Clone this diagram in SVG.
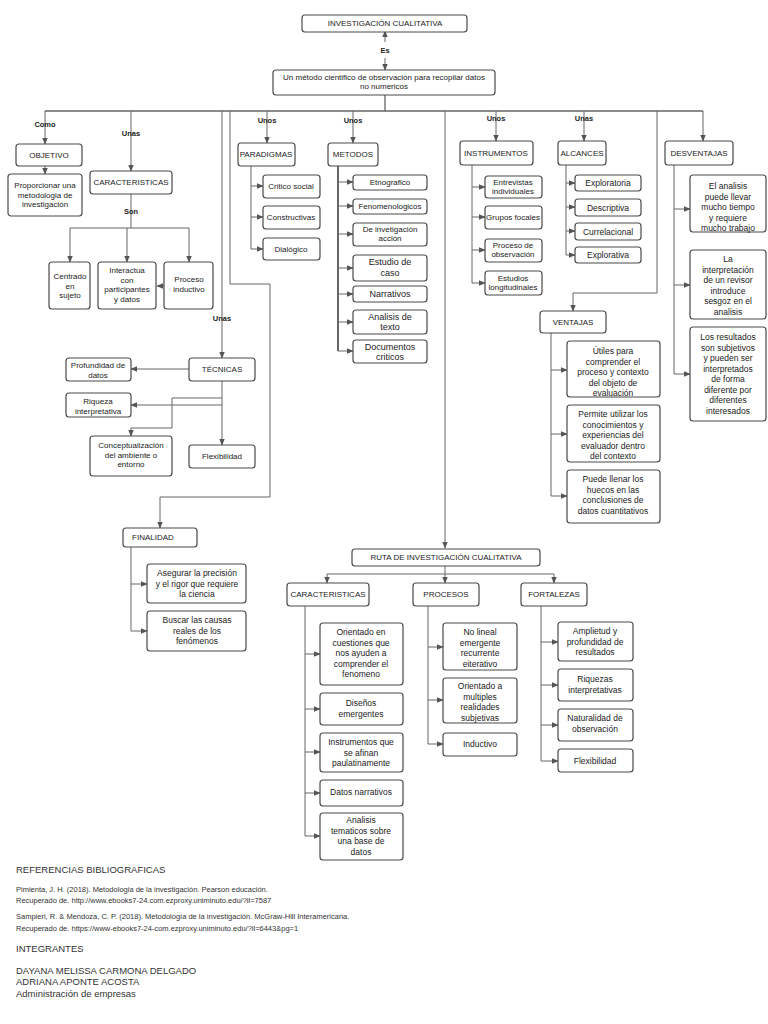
<svg xmlns="http://www.w3.org/2000/svg" width="768" height="1024" viewBox="0 0 768 1024">
<style>
.b{fill:#fff;stroke:#4a4a4a;stroke-width:1.2}
.t{font-family:"Liberation Sans",Arial,sans-serif;font-size:8px;fill:#222;text-anchor:middle}
.l{font-family:"Liberation Sans",Arial,sans-serif;font-size:7.5px;font-weight:bold;fill:#222;text-anchor:middle}
.c{fill:none;stroke:#666;stroke-width:1}
.r{font-family:"Liberation Sans",Arial,sans-serif;fill:#333}
</style>
<defs><marker id="a" viewBox="0 0 10 10" refX="9" refY="5" markerWidth="7" markerHeight="7" orient="auto-start-reverse" markerUnits="userSpaceOnUse"><path d="M0,1L10,5L0,9z" fill="#555"/></marker></defs>
<rect width="768" height="1024" fill="#fff"/>
<g id="connectors">
<path class="c" d="M385,42V31" marker-end="url(#a)"/><path class="c" d="M385,58V70" marker-end="url(#a)"/>
<path class="c" d="M385,95V111M45,111H703" style="stroke-width:1.3"/>
<path class="c" d="M45,111V144" marker-end="url(#a)"/>
<path class="c" d="M45,166V174" marker-end="url(#a)"/>
<path class="c" d="M131,111V171" marker-end="url(#a)"/>
<path class="c" d="M131,194V228M70,228H189"/>
<path class="c" d="M70,228V262" marker-end="url(#a)"/><path class="c" d="M127,228V262" marker-end="url(#a)"/><path class="c" d="M189,228V262" marker-end="url(#a)"/>
<path class="c" d="M164,286H157" marker-end="url(#a)"/>
<path class="c" d="M222,111V358" marker-end="url(#a)"/>
<path class="c" d="M230,111V284H270V497H160V528" marker-end="url(#a)"/>
<path class="c" d="M267,111V143" marker-end="url(#a)"/>
<path class="c" d="M353,111V143" marker-end="url(#a)"/>
<path class="c" d="M445,111V548" marker-end="url(#a)"/>
<path class="c" d="M496,111V141" marker-end="url(#a)"/>
<path class="c" d="M584,111V141" marker-end="url(#a)"/>
<path class="c" d="M657,111V293H573V311" marker-end="url(#a)"/>
<path class="c" d="M703,111V141" marker-end="url(#a)"/>
<path class="c" d="M251,166V249"/>
<path class="c" d="M251,186H263" marker-end="url(#a)"/><path class="c" d="M251,217H263" marker-end="url(#a)"/><path class="c" d="M251,249H263" marker-end="url(#a)"/>
<path class="c" d="M338,166V351" style="stroke-width:2"/>
<path class="c" d="M338,182H353" marker-end="url(#a)"/><path class="c" d="M338,206H353" marker-end="url(#a)"/><path class="c" d="M338,234H353" marker-end="url(#a)"/><path class="c" d="M338,268H353" marker-end="url(#a)"/><path class="c" d="M338,294H353" marker-end="url(#a)"/><path class="c" d="M338,322H353" marker-end="url(#a)"/><path class="c" d="M338,351H353" marker-end="url(#a)"/>
<path class="c" d="M472,165V283"/>
<path class="c" d="M472,187H485" marker-end="url(#a)"/><path class="c" d="M472,217H485" marker-end="url(#a)"/><path class="c" d="M472,250H485" marker-end="url(#a)"/><path class="c" d="M472,283H485" marker-end="url(#a)"/>
<path class="c" d="M566,165V255"/>
<path class="c" d="M566,183H575" marker-end="url(#a)"/><path class="c" d="M566,207H575" marker-end="url(#a)"/><path class="c" d="M566,231H575" marker-end="url(#a)"/><path class="c" d="M566,255H575" marker-end="url(#a)"/>
<path class="c" d="M674,165V374"/>
<path class="c" d="M674,209H690" marker-end="url(#a)"/><path class="c" d="M674,285H690" marker-end="url(#a)"/><path class="c" d="M674,374H690" marker-end="url(#a)"/>
<path class="c" d="M551,333V496"/>
<path class="c" d="M551,370H567" marker-end="url(#a)"/><path class="c" d="M551,434H567" marker-end="url(#a)"/><path class="c" d="M551,496H567" marker-end="url(#a)"/>
<path class="c" d="M189,369H131" marker-end="url(#a)"/>
<path class="c" d="M222,381V445" marker-end="url(#a)"/>
<path class="c" d="M222,405H131" marker-end="url(#a)"/>
<path class="c" d="M222,398H172V428H131V436" marker-end="url(#a)"/>
<path class="c" d="M131,547V631"/>
<path class="c" d="M131,584H147" marker-end="url(#a)"/><path class="c" d="M131,631H147" marker-end="url(#a)"/>
<path class="c" d="M445,566V574M327,574H554"/>
<path class="c" d="M327,574V583" marker-end="url(#a)"/><path class="c" d="M445,574V583" marker-end="url(#a)"/><path class="c" d="M554,574V583" marker-end="url(#a)"/>
<path class="c" d="M305,606V836"/>
<path class="c" d="M305,654H320" marker-end="url(#a)"/><path class="c" d="M305,709H320" marker-end="url(#a)"/><path class="c" d="M305,752H320" marker-end="url(#a)"/><path class="c" d="M305,793H320" marker-end="url(#a)"/><path class="c" d="M305,836H320" marker-end="url(#a)"/>
<path class="c" d="M428,606V744"/>
<path class="c" d="M428,647H443" marker-end="url(#a)"/><path class="c" d="M428,700H443" marker-end="url(#a)"/><path class="c" d="M428,744H443" marker-end="url(#a)"/>
<path class="c" d="M541,606V761"/>
<path class="c" d="M541,642H558" marker-end="url(#a)"/><path class="c" d="M541,685H558" marker-end="url(#a)"/><path class="c" d="M541,725H558" marker-end="url(#a)"/><path class="c" d="M541,761H558" marker-end="url(#a)"/>
</g>
<g id="labels">
<text class="l" x="385" y="53">Es</text>
<text class="l" x="45" y="127">Como</text>
<text class="l" x="131" y="136">Unas</text>
<text class="l" x="131" y="214">Son</text>
<text class="l" x="222" y="321">Unas</text>
<text class="l" x="267" y="123">Unos</text>
<text class="l" x="353" y="123">Unos</text>
<text class="l" x="496" y="121">Unos</text>
<text class="l" x="584" y="121">Unas</text>
</g>
<g id="n-root"><rect class="b" x="302" y="15" width="165" height="17" rx="3"/><text class="t" x="385" y="26">INVESTIGACIÓN CUALITATIVA</text></g>
<g id="n-metodo"><rect class="b" x="273" y="70" width="222" height="25" rx="3"/><text class="t" x="384" y="80">Un método cientifico de observación para recopilar datos<tspan x="384" dy="9">no numericos</tspan></text></g>
<g id="n-objetivo"><rect class="b" x="16" y="144" width="66" height="22" rx="3"/><text class="t" x="49" y="158">OBJETIVO</text></g>
<g id="n-proporcionar"><rect class="b" x="8" y="174" width="74" height="42" rx="3"/><text class="t" x="45" y="188">Proporcionar una<tspan x="45" dy="9.5">metodologia de</tspan><tspan x="45" dy="9.5">investigación</tspan></text></g>
<g id="n-caract"><rect class="b" x="90" y="171" width="82" height="23" rx="3"/><text class="t" x="131" y="185">CARACTERISTICAS</text></g>
<g id="n-centrado"><rect class="b" x="49" y="262" width="41" height="47" rx="3"/><text class="t" x="70" y="279">Centrado<tspan x="70" dy="9.5">en</tspan><tspan x="70" dy="9.5">sujeto</tspan></text></g>
<g id="n-interactua"><rect class="b" x="98" y="262" width="58" height="47" rx="3"/><text class="t" x="127" y="273">Interactua<tspan x="127" dy="9.5">con</tspan><tspan x="127" dy="9.5">participantes</tspan><tspan x="127" dy="9.5">y datos</tspan></text></g>
<g id="n-proceso"><rect class="b" x="164" y="262" width="49" height="47" rx="3"/><text class="t" x="189" y="282">Proceso<tspan x="189" dy="9.5">inductivo</tspan></text></g>
<g id="n-paradigmas"><rect class="b" x="238" y="143" width="57" height="23" rx="3"/><text class="t" x="266" y="157">PARADIGMAS</text></g>
<g id="n-critico"><rect class="b" x="263" y="175" width="57" height="23" rx="3"/><text class="t" x="291" y="189">Critico social</text></g>
<g id="n-constr"><rect class="b" x="263" y="206" width="57" height="23" rx="3"/><text class="t" x="291" y="220">Constructivas</text></g>
<g id="n-dialog"><rect class="b" x="263" y="238" width="57" height="22" rx="3"/><text class="t" x="291" y="252">Dialógico</text></g>
<g id="n-metodos"><rect class="b" x="328" y="143" width="50" height="23" rx="3"/><text class="t" x="353" y="157">METODOS</text></g>
<g id="n-etno"><rect class="b" x="353" y="175" width="74" height="15" rx="3"/><text class="t" x="390" y="185">Etnografico</text></g>
<g id="n-fenom"><rect class="b" x="353" y="199" width="74" height="15" rx="3"/><text class="t" x="390" y="209">Fenomenologicos</text></g>
<g id="n-invacc"><rect class="b" x="353" y="223" width="74" height="23" rx="3"/><text class="t" x="390" y="232">De invetigación<tspan x="390" dy="9">acción</tspan></text></g>
<g id="n-caso"><rect class="b" x="353" y="255" width="74" height="26" rx="3"/><text class="t" x="390" y="265" style="font-size:9px">Estudio de<tspan x="390" dy="11">caso</tspan></text></g>
<g id="n-narr"><rect class="b" x="353" y="286" width="74" height="16" rx="3"/><text class="t" x="390" y="297" style="font-size:9px">Narrativos</text></g>
<g id="n-analtxt"><rect class="b" x="353" y="310" width="74" height="24" rx="3"/><text class="t" x="390" y="320" style="font-size:9px">Analisis de<tspan x="390" dy="10">texto</tspan></text></g>
<g id="n-docs"><rect class="b" x="353" y="340" width="74" height="23" rx="3"/><text class="t" x="390" y="350" style="font-size:9px">Documentos<tspan x="390" dy="10">criticos</tspan></text></g>
<g id="n-instr"><rect class="b" x="460" y="141" width="73" height="24" rx="3"/><text class="t" x="496" y="156">INSTRUMENTOS</text></g>
<g id="n-entrev"><rect class="b" x="485" y="176" width="57" height="22" rx="3"/><text class="t" x="513" y="185">Entrevistas<tspan x="513" dy="9">individuales</tspan></text></g>
<g id="n-grupos"><rect class="b" x="485" y="206" width="57" height="23" rx="3"/><text class="t" x="513" y="220">Grupos focales</text></g>
<g id="n-procobs"><rect class="b" x="485" y="239" width="57" height="23" rx="3"/><text class="t" x="513" y="248">Proceso de<tspan x="513" dy="9">observación</tspan></text></g>
<g id="n-longit"><rect class="b" x="485" y="271" width="57" height="24" rx="3"/><text class="t" x="513" y="281">Estudios<tspan x="513" dy="9">longitudinales</tspan></text></g>
<g id="n-alcances"><rect class="b" x="558" y="141" width="48" height="24" rx="3"/><text class="t" x="582" y="156">ALCANCES</text></g>
<g id="n-explorat"><rect class="b" x="575" y="175" width="66" height="16" rx="3"/><text class="t" x="608" y="186" style="font-size:8.5px">Exploratoria</text></g>
<g id="n-descr"><rect class="b" x="575" y="199" width="66" height="17" rx="3"/><text class="t" x="608" y="211" style="font-size:8.5px">Descriptiva</text></g>
<g id="n-corr"><rect class="b" x="575" y="223" width="66" height="17" rx="3"/><text class="t" x="608" y="235" style="font-size:8.5px">Currelacional</text></g>
<g id="n-explorv"><rect class="b" x="575" y="247" width="66" height="16" rx="3"/><text class="t" x="608" y="258" style="font-size:8.5px">Explorativa</text></g>
<g id="n-desv"><rect class="b" x="665" y="141" width="68" height="24" rx="3"/><text class="t" x="699" y="156">DESVENTAJAS</text></g>
<g id="n-desv1"><rect class="b" x="690" y="175" width="76" height="57" rx="3"/><text class="t" x="728" y="189" style="font-size:8.5px">El analisis<tspan x="728" dy="10.5">puede llevar</tspan><tspan x="728" dy="10.5">mucho tiempo</tspan><tspan x="728" dy="10.5">y requiere</tspan><tspan x="728" dy="10.5">mucho trabajo</tspan></text></g>
<g id="n-desv2"><rect class="b" x="690" y="250" width="76" height="69" rx="3"/><text class="t" x="728" y="262" style="font-size:8.5px">La<tspan x="728" dy="10.5">interpretación</tspan><tspan x="728" dy="10.5">de un revisor</tspan><tspan x="728" dy="10.5">introduce</tspan><tspan x="728" dy="10.5">sesgoz en el</tspan><tspan x="728" dy="10.5">analisis</tspan></text></g>
<g id="n-desv3"><rect class="b" x="690" y="327" width="76" height="94" rx="3"/><text class="t" x="728" y="340" style="font-size:8.5px">Los resultados<tspan x="728" dy="10.5">son subjetivos</tspan><tspan x="728" dy="10.5">y pueden ser</tspan><tspan x="728" dy="10.5">interpretados</tspan><tspan x="728" dy="10.5">de forma</tspan><tspan x="728" dy="10.5">diferente por</tspan><tspan x="728" dy="10.5">diferentes</tspan><tspan x="728" dy="10.5">interesados</tspan></text></g>
<g id="n-vent"><rect class="b" x="540" y="311" width="66" height="22" rx="3"/><text class="t" x="573" y="325">VENTAJAS</text></g>
<g id="n-vent1"><rect class="b" x="567" y="341" width="93" height="56" rx="3"/><text class="t" x="613" y="354" style="font-size:8.5px">Útiles para<tspan x="613" dy="10.5">comprender el</tspan><tspan x="613" dy="10.5">proceso y contexto</tspan><tspan x="613" dy="10.5">del objeto de</tspan><tspan x="613" dy="10.5">evaluación</tspan></text></g>
<g id="n-vent2"><rect class="b" x="567" y="405" width="93" height="57" rx="3"/><text class="t" x="613" y="417" style="font-size:8.5px">Permite utilizar los<tspan x="613" dy="10.5">conocimientos y</tspan><tspan x="613" dy="10.5">experiencias del</tspan><tspan x="613" dy="10.5">evaluador dentro</tspan><tspan x="613" dy="10.5">del contexto</tspan></text></g>
<g id="n-vent3"><rect class="b" x="567" y="470" width="93" height="53" rx="3"/><text class="t" x="613" y="482" style="font-size:8.5px">Puede llenar los<tspan x="613" dy="10.5">huecos en las</tspan><tspan x="613" dy="10.5">conclusiones de</tspan><tspan x="613" dy="10.5">datos cuantitativos</tspan></text></g>
<g id="n-tecnicas"><rect class="b" x="189" y="358" width="66" height="23" rx="3"/><text class="t" x="222" y="372">TÉCNICAS</text></g>
<g id="n-profund"><rect class="b" x="66" y="358" width="65" height="23" rx="3"/><text class="t" x="98" y="368">Profundidad de<tspan x="98" dy="9.5">datos</tspan></text></g>
<g id="n-riqueza"><rect class="b" x="66" y="393" width="65" height="24" rx="3"/><text class="t" x="98" y="404">Riqueza<tspan x="98" dy="9.5">interpretativa</tspan></text></g>
<g id="n-concept"><rect class="b" x="90" y="436" width="82" height="40" rx="3"/><text class="t" x="131" y="448">Conceptualización<tspan x="131" dy="9.5">del ambiente o</tspan><tspan x="131" dy="9.5">entorno</tspan></text></g>
<g id="n-flex"><rect class="b" x="189" y="445" width="66" height="23" rx="3"/><text class="t" x="222" y="459">Flexibilidad</text></g>
<g id="n-final"><rect class="b" x="123" y="528" width="74" height="19" rx="3"/><text class="t" x="153" y="540">FINALIDAD</text></g>
<g id="n-asegurar"><rect class="b" x="147" y="564" width="99" height="39" rx="3"/><text class="t" x="197" y="576" style="font-size:8.5px">Asegurar la precisión<tspan x="197" dy="10.5">y el rigor que requiere</tspan><tspan x="197" dy="10.5">la ciencia</tspan></text></g>
<g id="n-buscar"><rect class="b" x="147" y="611" width="99" height="40" rx="3"/><text class="t" x="197" y="623" style="font-size:8.5px">Buscar las causas<tspan x="197" dy="10.5">reales de los</tspan><tspan x="197" dy="10.5">fenómenos</tspan></text></g>
<g id="n-ruta"><rect class="b" x="352" y="549" width="188" height="17" rx="3"/><text class="t" x="446" y="560">RUTA DE INVESTIGACIÓN CUALITATIVA</text></g>
<g id="n-caract2"><rect class="b" x="287" y="583" width="82" height="23" rx="3"/><text class="t" x="328" y="597">CARACTERISTICAS</text></g>
<g id="n-procesos"><rect class="b" x="413" y="583" width="66" height="23" rx="3"/><text class="t" x="446" y="597">PROCESOS</text></g>
<g id="n-fort"><rect class="b" x="521" y="583" width="66" height="23" rx="3"/><text class="t" x="554" y="597">FORTALEZAS</text></g>
<g id="n-c1"><rect class="b" x="320" y="623" width="83" height="62" rx="3"/><text class="t" x="361" y="635" style="font-size:8.5px">Orientado en<tspan x="361" dy="10.5">cuestiones que</tspan><tspan x="361" dy="10.5">nos ayuden a</tspan><tspan x="361" dy="10.5">comprender el</tspan><tspan x="361" dy="10.5">fenomeno</tspan></text></g>
<g id="n-c2"><rect class="b" x="320" y="693" width="83" height="32" rx="3"/><text class="t" x="361" y="706" style="font-size:8.5px">Diseños<tspan x="361" dy="10.5">emergentes</tspan></text></g>
<g id="n-c3"><rect class="b" x="320" y="733" width="83" height="39" rx="3"/><text class="t" x="361" y="745" style="font-size:8.5px">Instrumentos que<tspan x="361" dy="10.5">se afinan</tspan><tspan x="361" dy="10.5">paulatinamente</tspan></text></g>
<g id="n-c4"><rect class="b" x="320" y="780" width="83" height="26" rx="3"/><text class="t" x="361" y="795" style="font-size:8.5px">Datos narrativos</text></g>
<g id="n-c5"><rect class="b" x="320" y="813" width="83" height="47" rx="3"/><text class="t" x="361" y="823" style="font-size:8.5px">Analisis<tspan x="361" dy="10.5">tematicos sobre</tspan><tspan x="361" dy="10.5">una base de</tspan><tspan x="361" dy="10.5">datos</tspan></text></g>
<g id="n-p1"><rect class="b" x="443" y="623" width="74" height="47" rx="3"/><text class="t" x="480" y="635" style="font-size:8.5px">No lineal<tspan x="480" dy="10.5">emergente</tspan><tspan x="480" dy="10.5">recurrente</tspan><tspan x="480" dy="10.5">eiterativo</tspan></text></g>
<g id="n-p2"><rect class="b" x="443" y="678" width="74" height="45" rx="3"/><text class="t" x="480" y="689" style="font-size:8.5px">Orientado a<tspan x="480" dy="10.5">multiples</tspan><tspan x="480" dy="10.5">realidades</tspan><tspan x="480" dy="10.5">subjetivas</tspan></text></g>
<g id="n-p3"><rect class="b" x="443" y="733" width="74" height="23" rx="3"/><text class="t" x="480" y="747" style="font-size:8.5px">Inductivo</text></g>
<g id="n-f1"><rect class="b" x="558" y="622" width="75" height="39" rx="3"/><text class="t" x="595" y="634" style="font-size:8.5px">Amplietud y<tspan x="595" dy="10.5">profundidad de</tspan><tspan x="595" dy="10.5">resultados</tspan></text></g>
<g id="n-f2"><rect class="b" x="558" y="669" width="75" height="32" rx="3"/><text class="t" x="595" y="682" style="font-size:8.5px">Riquezas<tspan x="595" dy="10.5">interpretativas</tspan></text></g>
<g id="n-f3"><rect class="b" x="558" y="709" width="75" height="32" rx="3"/><text class="t" x="595" y="721" style="font-size:8.5px">Naturalidad de<tspan x="595" dy="10.5">observación</tspan></text></g>
<g id="n-f4"><rect class="b" x="558" y="749" width="75" height="23" rx="3"/><text class="t" x="595" y="764" style="font-size:8.5px">Flexibilidad</text></g>
<g id="refs">
<text class="r" x="16" y="873" font-size="9.5">REFERENCIAS BIBLIOGRAFICAS</text>
<text class="r" x="16" y="892" font-size="7.5">Pimienta, J. H. (2018). Metodologia de la investigación. Pearson educación.</text>
<text class="r" x="16" y="903" font-size="7.5">Recuperado de. http://www.ebooks7-24.com.ezproxy.uniminuto.edu/?il=7587</text>
<text class="r" x="16" y="919" font-size="7.5">Sampieri, R. &amp; Mendoza, C. P. (2018). Metodología de la investigación. McGraw-Hill Interamericana.</text>
<text class="r" x="16" y="931" font-size="7.5">Recuperado de. https://www-ebooks7-24-com.ezproxy.uniminuto.edu/?il=6443&amp;pg=1</text>
<text class="r" x="16" y="952" font-size="9.5">INTEGRANTES</text>
<text class="r" x="16" y="974" font-size="9.5">DAYANA MELISSA CARMONA DELGADO</text>
<text class="r" x="16" y="985" font-size="9.5">ADRIANA APONTE ACOSTA</text>
<text class="r" x="16" y="997" font-size="9.5">Administración de empresas</text>
</g>
</svg>
